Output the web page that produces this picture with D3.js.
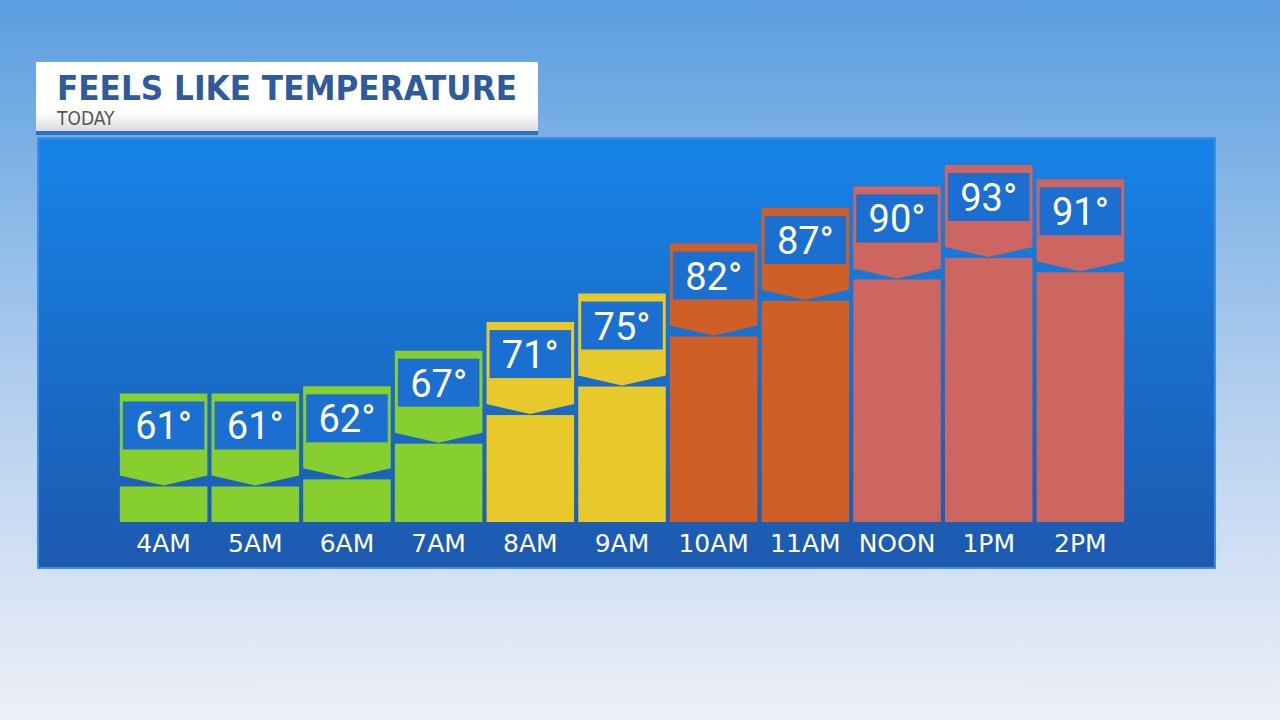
<!DOCTYPE html>
<html><head><meta charset="utf-8">
<script src="https://cdn.jsdelivr.net/npm/d3@7"></script>
<style>body{margin:0;overflow:hidden}</style>
</head><body>
<svg id="chart" width="1280" height="720"></svg>
<script>
const hours = ["4AM","5AM","6AM","7AM","8AM","9AM","10AM","11AM","NOON","1PM","2PM"];
const temps = [61,61,62,67,71,75,82,87,90,93,91];
const bandColors = ["#86cf2e","#86cf2e","#86cf2e","#86cf2e","#e8c92b","#e8c92b","#d05f27","#d05f27","#cd6660","#cd6660","#cd6660"];

const svg = d3.select("#chart");
const defs = svg.append("defs");

const sky = defs.append("linearGradient").attr("id","sky").attr("x1",0).attr("y1",0).attr("x2",0).attr("y2",1);
sky.append("stop").attr("offset","0%").attr("stop-color","#5b9ee0");
sky.append("stop").attr("offset","55%").attr("stop-color","#b3cfee");
sky.append("stop").attr("offset","100%").attr("stop-color","#eef0f8");
const panel = defs.append("linearGradient").attr("id","panel").attr("x1",0).attr("y1",0).attr("x2",0).attr("y2",1);
panel.append("stop").attr("offset","0%").attr("stop-color","#1684e7");
panel.append("stop").attr("offset","100%").attr("stop-color","#1d59af");
const title = defs.append("linearGradient").attr("id","titlebg").attr("x1",0).attr("y1",0).attr("x2",0).attr("y2",1);
title.append("stop").attr("offset","0%").attr("stop-color","#ffffff");
title.append("stop").attr("offset","70%").attr("stop-color","#ffffff");
title.append("stop").attr("offset","100%").attr("stop-color","#d8d8dc");

svg.append("rect").attr("width",1280).attr("height",720).attr("fill","url(#sky)");

// panel
svg.append("rect").attr("x",38).attr("y",138).attr("width",1177).attr("height",430)
  .attr("fill","url(#panel)").attr("stroke","#3f8ee0").attr("stroke-width",2);

// title box
svg.append("rect").attr("x",36).attr("y",62).attr("width",502).attr("height",71).attr("fill","url(#titlebg)");
svg.append("rect").attr("x",36).attr("y",131).attr("width",502).attr("height",4).attr("fill","#2f6fc0");
svg.append("text").attr("x",57).attr("y",100).attr("fill","#2f5a9c")
  .attr("textLength",460).attr("lengthAdjust","spacingAndGlyphs")
  .style("font-family","'DejaVu Sans Condensed','Roboto Condensed',Roboto,sans-serif").style("font-weight","bold")
  .style("font-size","33px").text("FEELS LIKE TEMPERATURE");
svg.append("text").attr("x",57).attr("y",125).attr("fill","#555")
  .style("font-family","'DejaVu Sans Condensed',Roboto,sans-serif").style("font-size","19px").text("TODAY");

const x = d3.scaleBand().domain(hours).range([118,1126]).paddingInner(0.045).paddingOuter(0.02);
const y = d3.scaleLinear().domain([43,93]).range([522,165]);
const bw = x.bandwidth();

const g = svg.selectAll("g.bar").data(hours).enter().append("g").attr("class","bar")
  .attr("transform", d => `translate(${x(d)},0)`);

g.each(function(h, i) {
  const el = d3.select(this);
  const top = y(temps[i]);
  const c = bandColors[i];
  el.append("path").attr("fill", c)
    .attr("d", `M0,${top}H${bw}V${top+82}L${bw/2},${top+92}L0,${top+82}Z`);
  el.append("rect").attr("x",0).attr("y",top+93).attr("width",bw).attr("height",y(43)-top-93).attr("fill",c);
  el.append("rect").attr("x",3).attr("y",top+8).attr("width",bw-6).attr("height",48).attr("fill","#1a6fd0");
  el.append("text").attr("x",bw/2).attr("y",top+46).attr("text-anchor","middle").attr("fill","#fff")
    .style("font-family","Roboto,sans-serif").style("font-size","38px").text(temps[i] + "°");
});

svg.selectAll("text.hour").data(hours).enter().append("text").attr("class","hour")
  .attr("x", d => x(d) + bw/2).attr("y",552).attr("text-anchor","middle").attr("fill","#fff")
  .style("font-family","'DejaVu Sans',sans-serif").style("font-size","25px").text(d => d);
</script>
</body></html>
